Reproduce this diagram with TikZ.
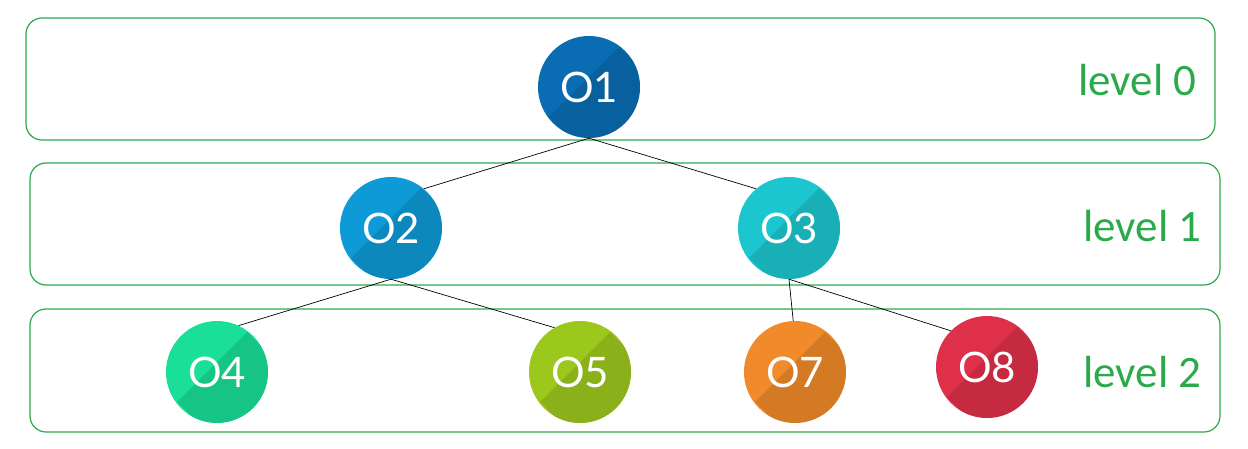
\documentclass[tikz,border=0pt]{standalone}
\usetikzlibrary{calc}
\usepackage{fontspec}
\setmainfont{Lato}
\newfontfamily\lvfont{Carlito}
\definecolor{lvgreen}{HTML}{2BAA4B}
\definecolor{cA}{HTML}{0A6DB3}
\definecolor{cB}{HTML}{0E9AD6}
\definecolor{cC}{HTML}{1CC6CF}
\definecolor{cD}{HTML}{1ADF98}
\definecolor{cE}{HTML}{9CC81E}
\definecolor{cF}{HTML}{F08A2A}
\definecolor{cG}{HTML}{DE3049}
\begin{document}
\begin{tikzpicture}[x=1pt,y=-1pt,
  band/.style={draw=lvgreen,line width=1.2pt,rounded corners=16pt},
  lvl/.style={text=lvgreen,font=\lvfont\fontsize{45}{47}\selectfont,anchor=east},
  obj/.style={circle,minimum size=102pt,inner sep=0pt,text=white,font=\fontsize{42}{44}\selectfont},
  link/.style={draw=black,line width=0.7pt}]
\useasboundingbox (0,0) rectangle (1248,449);
\draw[band] (26,18) rectangle (1215,140);
\draw[band] (30,163) rectangle (1220,285);
\draw[band] (30,309) rectangle (1220,432);
\node[lvl] (l0) at (1200,80) {level 0};
\node[lvl] (l1) at (1205,226) {level 1};
\node[lvl] (l2) at (1205,372) {level 2};
\newcommand{\obj}[4]{%
  \fill[#4] (#2) circle (51);
  \begin{scope}
    \clip (#2) circle (51);
    \fill[#4!75!black,opacity=0.45] ($(#2)+(-40,30)$) -- ($(#2)+(30,-40)$) -- ($(#2)+(110,40)$) -- ($(#2)+(40,110)$) -- cycle;
  \end{scope}
  \node[obj] (#1) at (#2) {#3};}
\obj{o1}{589,87}{O1}{cA}
\obj{o2}{391,228}{O2}{cB}
\obj{o3}{789,228}{O3}{cC}
\obj{o4}{217,372}{O4}{cD}
\obj{o5}{580,372}{O5}{cE}
\obj{o7}{795,372}{O7}{cF}
\obj{o8}{987,367}{O8}{cG}
\draw[link] (o1.south) -- (o2.50);
\draw[link] (o1.south) -- (o3.130);
\draw[link] (o2.south) -- (o4.65);
\draw[link] (o2.south) -- (o5.120);
\draw[link] (o3.south) -- (o7.92);
\draw[link] (o3.south) -- (o8.135);
\end{tikzpicture}
\end{document}
